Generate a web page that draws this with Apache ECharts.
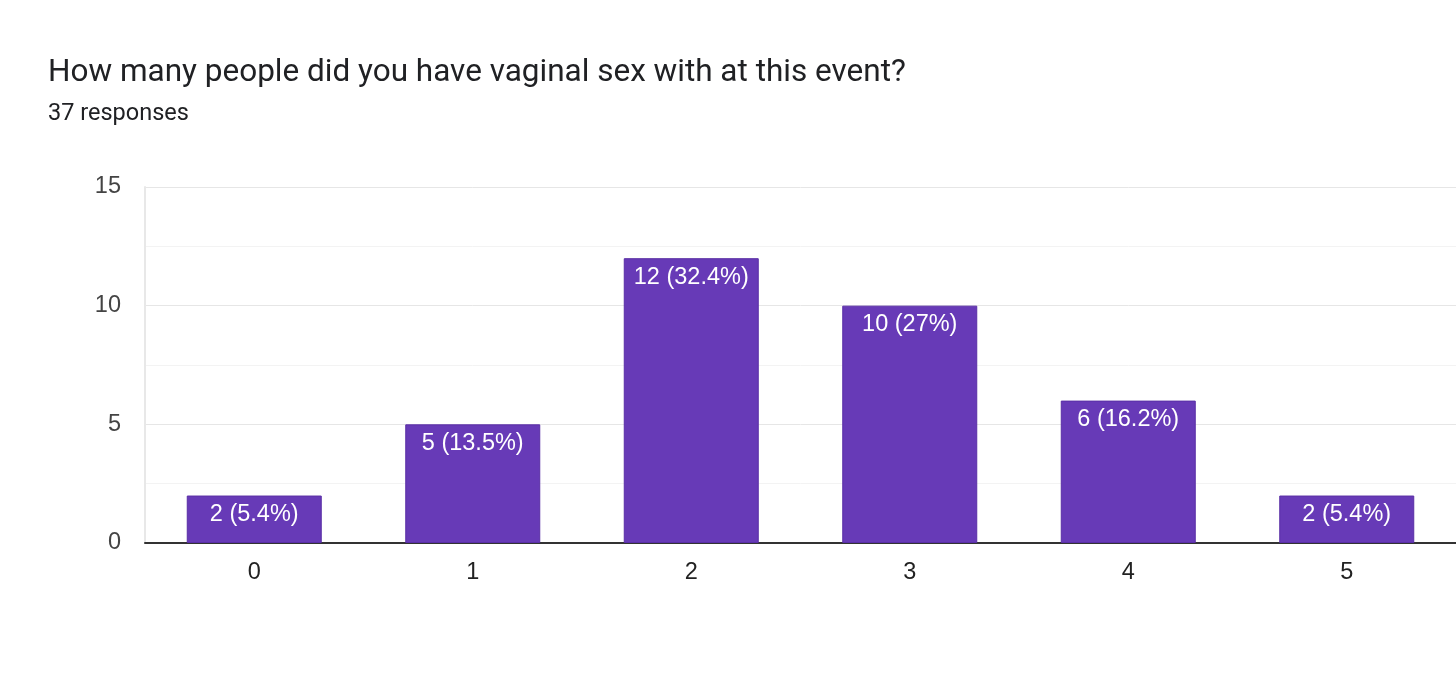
<!DOCTYPE html>
<html><head><meta charset="utf-8">
<script src="https://cdn.jsdelivr.net/npm/echarts@6/dist/echarts.min.js"></script>
<style>html,body{margin:0;padding:0;background:#fff}#c{width:1456px;height:691px}</style>
</head><body><div id="c"></div>
<script>
const titleText = 'How many people did you have vaginal sex with at this event?';
const subtitleText = '37 responses';
const categories = ['0','1','2','3','4','5'];
const counts = [2, 5, 12, 10, 6, 2];
const labels = ['2 (5.4%)','5 (13.5%)','12 (32.4%)','10 (27%)','6 (16.2%)','2 (5.4%)'];
const yTicks = [0, 5, 10, 15];

const chart = echarts.init(document.getElementById('c'));
chart.setOption({
  animation: false,
  title: {
    text: titleText, subtext: subtitleText, left: 43, top: 52, itemGap: 13,
    textStyle: {fontFamily: 'Roboto', fontSize: 31.5, fontWeight: 'normal', color: '#202124'},
    subtextStyle: {fontFamily: 'Roboto', fontSize: 23.5, color: '#202124'}
  },
  grid: {left: 145, right: 0, top: 187, bottom: 148, containLabel: false},
  xAxis: {
    type: 'category', data: categories,
    axisLine: {lineStyle: {color: '#333', width: 2}},
    axisTick: {show: false},
    axisLabel: {fontFamily: 'Liberation Sans', fontSize: 23.5, color: '#222', margin: 18}
  },
  yAxis: {
    type: 'value', min: 0, max: 15, interval: 2.5,
    axisLine: {show: true, lineStyle: {color: '#e8e8e8', width: 2}},
    axisTick: {show: false},
    axisLabel: {fontFamily: 'Liberation Sans', fontSize: 23.5, color: '#444', margin: 24,
      formatter: v => yTicks.includes(v) ? String(v) : ''},
    splitLine: {lineStyle: {color: ['#e6e6e6', '#f3f3f3'], width: 1}}
  },
  series: [{
    type: 'bar', data: counts, barWidth: 135,
    itemStyle: {color: '#673ab7', borderColor: '#5a2fa6', borderWidth: 1},
    label: {show: true, position: 'insideTop', distance: 7, color: '#fff',
      fontFamily: 'Liberation Sans', fontSize: 23.5,
      formatter: p => labels[p.dataIndex]}
  }]
});
</script></body></html>
